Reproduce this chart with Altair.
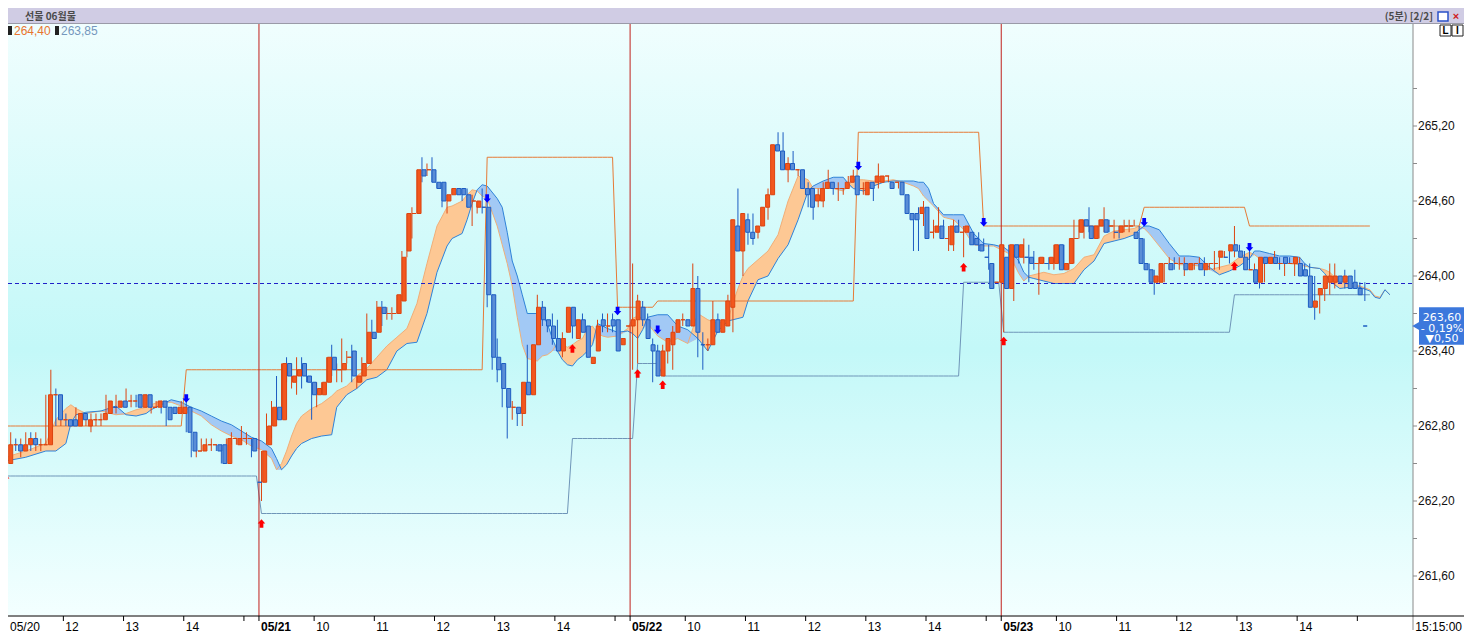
import altair as alt
import pandas as pd

# ---------------- data ----------------
# 5-minute candles (open, high, low, close); last bar of each day = 15:15 closing auction
day_0520 = [
    (262.50,262.65,262.45,262.65),(262.65,262.75,262.60,262.65),(262.65,262.70,262.60,262.60),
    (262.60,262.70,262.55,262.65),(262.65,262.75,262.65,262.70),(262.70,262.75,262.60,262.65),
    (262.65,262.75,262.60,262.65),(262.65,262.70,262.60,262.65),(262.65,263.05,262.65,263.05),
    (263.05,263.25,263.00,263.05),(263.05,263.10,262.80,262.85),(262.85,262.90,262.80,262.85),
    (262.85,262.90,262.80,262.80),(262.85,262.85,262.80,262.80),(262.80,262.95,262.80,262.90),
    (262.90,262.90,262.85,262.85),(262.80,262.90,262.80,262.85),(262.85,262.90,262.75,262.85),
    (262.85,262.90,262.80,262.85),(262.85,262.90,262.80,262.90),(262.90,263.05,262.90,263.00),
    (262.95,263.00,262.90,262.95),(262.95,263.05,262.90,263.00),(263.00,263.00,262.95,262.95),
    (263.00,263.10,262.95,263.00),(263.00,263.05,262.95,263.00),(263.05,263.05,262.95,262.95),
    (262.95,263.05,262.95,263.05),(263.05,263.05,262.95,262.95),(262.95,263.00,262.90,262.95),
    (262.95,263.00,262.95,263.00),(263.00,263.00,262.90,262.95),(262.95,262.95,262.80,262.85),
    (262.95,262.95,262.90,262.90),(262.90,262.95,262.90,262.95),(262.90,263.00,262.90,262.95),
    (262.95,263.00,262.75,262.75),(262.75,262.75,262.55,262.60),(262.60,262.65,262.55,262.60),
    (262.60,262.70,262.60,262.65),(262.65,262.70,262.60,262.65),(262.65,262.70,262.60,262.65),
    (262.65,262.65,262.60,262.60),(262.65,262.65,262.50,262.50),(262.50,262.70,262.50,262.70),
    (262.70,262.75,262.65,262.70),(262.65,262.70,262.65,262.70),(262.70,262.80,262.65,262.70),
    (262.70,262.75,262.65,262.70),(262.70,262.70,262.55,262.60),(262.35,262.35,262.35,262.35),
]
day_0521 = [
    (262.35,262.60,262.20,262.60),(262.65,262.90,262.65,262.80),(262.80,263.00,262.70,262.95),
    (262.95,263.20,262.85,262.85),(262.85,263.30,262.85,263.30),(263.30,263.35,263.15,263.20),
    (263.15,263.30,263.10,263.20),(263.20,263.35,263.05,263.25),(263.30,263.35,263.10,263.20),
    (263.20,263.20,263.15,263.15),(263.15,263.15,262.85,263.05),(263.05,263.15,262.95,263.10),
    (263.05,263.15,263.05,263.15),(263.15,263.35,263.15,263.35),(263.35,263.45,263.20,263.25),
    (263.25,263.30,263.15,263.25),(263.25,263.50,263.15,263.30),(263.35,263.40,263.30,263.35),
    (263.40,263.45,263.15,263.20),(263.15,263.20,263.10,263.20),(263.20,263.35,263.15,263.30),
    (263.30,263.70,263.30,263.55),(263.55,263.65,263.50,263.50),(263.55,263.80,263.55,263.75),
    (263.75,263.80,263.60,263.70),(263.70,263.75,263.65,263.70),(263.70,263.75,263.65,263.70),
    (263.70,263.85,263.70,263.85),(263.80,264.20,263.80,264.15),(264.20,264.50,264.15,264.50),
    (264.50,264.55,264.30,264.50),(264.50,264.85,264.50,264.85),(264.85,264.95,264.75,264.80),
    (264.85,264.90,264.80,264.85),(264.85,264.95,264.75,264.75),(264.75,264.75,264.70,264.70),
    (264.75,264.75,264.55,264.60),(264.60,264.65,264.50,264.65),(264.65,264.70,264.65,264.70),
    (264.70,264.70,264.65,264.65),(264.70,264.70,264.60,264.65),(264.65,264.70,264.55,264.55),
    (264.60,264.65,264.40,264.60),(264.55,264.60,264.50,264.60),(264.55,264.70,264.50,264.55),
    (264.55,264.60,263.75,263.85),(263.85,263.85,263.25,263.35),(263.35,263.50,263.15,263.25),
    (263.30,263.30,262.95,263.10),(263.10,263.10,262.70,262.95),(262.95,263.00,262.85,262.95),
    (262.95,262.95,262.80,262.90),(262.90,263.15,262.80,263.15),(263.15,263.45,263.05,263.05),
    (263.05,263.45,263.05,263.45),(263.45,263.85,263.45,263.75),(263.75,263.80,263.60,263.65),
    (263.65,263.65,263.55,263.60),(263.60,263.70,263.45,263.50),(263.50,263.65,263.40,263.40),
    (263.40,263.55,263.35,263.50),(263.55,263.75,263.55,263.75),(263.75,263.75,263.50,263.60),
    (263.50,263.65,263.50,263.65),(263.65,263.70,263.55,263.55),(263.60,263.60,263.35,263.35),
    (263.30,263.35,263.30,263.35),(263.40,263.65,263.40,263.60),(263.65,263.70,263.55,263.60),
    (263.60,263.70,263.55,263.60),(263.65,263.70,263.55,263.60),(263.65,263.65,263.40,263.40),
    (263.45,263.50,263.45,263.50),(263.60,263.60,263.60,263.60),
]
day_0522 = [
    (263.60,264.10,263.25,263.65),(263.65,263.85,263.30,263.80),(263.75,263.80,263.60,263.65),
    (263.65,263.70,263.50,263.50),(263.45,263.50,263.15,263.40),(263.40,263.45,263.20,263.20),
    (263.20,263.45,263.20,263.40),(263.40,263.50,263.30,263.50),(263.45,263.60,263.25,263.55),
    (263.55,263.65,263.55,263.65),(263.65,263.70,263.60,263.65),(263.65,263.65,263.60,263.60),
    (263.60,264.10,263.60,263.90),(263.90,264.00,263.35,263.55),(263.45,263.55,263.25,263.45),
    (263.45,263.50,263.40,263.45),(263.45,263.80,263.45,263.65),(263.65,263.70,263.55,263.55),
    (263.55,263.65,263.55,263.65),(263.60,263.85,263.60,263.80),(263.75,264.45,263.55,264.45),
    (264.40,264.70,264.20,264.20),(264.20,264.50,264.00,264.50),(264.45,264.50,264.25,264.35),
    (264.35,264.50,264.25,264.30),(264.35,264.40,264.30,264.40),(264.40,264.55,264.40,264.55),
    (264.55,264.70,264.45,264.65),(264.65,265.05,264.65,265.05),(265.05,265.15,265.00,265.00),
    (265.00,265.15,264.85,264.85),(264.85,264.95,264.75,264.90),(264.90,265.00,264.85,264.85),
    (264.85,264.85,264.80,264.85),(264.85,264.85,264.70,264.70),(264.70,264.75,264.55,264.65),
    (264.70,264.70,264.45,264.55),(264.60,264.70,264.55,264.65),(264.60,264.75,264.55,264.70),
    (264.70,264.85,264.70,264.75),(264.75,264.75,264.65,264.70),(264.70,264.75,264.60,264.70),
    (264.70,264.70,264.65,264.70),(264.70,264.80,264.70,264.75),(264.75,264.85,264.75,264.80),
    (264.80,264.80,264.65,264.65),(264.70,264.75,264.65,264.70),(264.65,264.75,264.65,264.75),
    (264.75,264.75,264.60,264.70),(264.75,264.90,264.70,264.80),(264.75,264.80,264.75,264.80),
    (264.80,264.80,264.75,264.80),(264.75,264.75,264.70,264.70),(264.75,264.75,264.70,264.75),
    (264.75,264.75,264.65,264.65),(264.65,264.65,264.50,264.50),(264.50,264.50,264.20,264.45),
    (264.50,264.55,264.20,264.45),(264.50,264.60,264.40,264.55),(264.55,264.55,264.30,264.30),
    (264.35,264.45,264.30,264.35),(264.35,264.55,264.35,264.40),(264.40,264.45,264.30,264.30),
    (264.30,264.40,264.20,264.30),(264.25,264.45,264.20,264.40),(264.40,264.45,264.35,264.35),
    (264.35,264.40,264.15,264.35),(264.35,264.40,264.35,264.40),(264.35,264.35,264.25,264.25),
    (264.30,264.35,264.20,264.25),(264.25,264.30,264.20,264.20),(264.15,264.25,264.05,264.15),
    (264.10,264.10,263.90,263.90),(263.95,263.95,263.95,263.95),
]
day_0523 = [
    (263.95,264.25,263.55,264.25),(264.15,264.25,263.90,263.90),(263.90,264.25,263.80,264.25),
    (264.25,264.25,264.10,264.15),(264.15,264.30,264.10,264.25),(264.15,264.25,263.95,264.15),
    (264.15,264.20,264.05,264.10),(264.10,264.15,263.85,264.10),(264.10,264.15,264.10,264.15),
    (264.10,264.15,264.05,264.10),(264.10,264.25,264.05,264.15),(264.10,264.25,264.10,264.25),
    (264.25,264.25,264.05,264.05),(264.05,264.10,264.05,264.10),(264.10,264.45,264.10,264.30),
    (264.30,264.45,264.30,264.30),(264.35,264.45,264.30,264.45),(264.45,264.55,264.35,264.40),
    (264.40,264.40,264.30,264.30),(264.30,264.45,264.30,264.40),(264.40,264.55,264.35,264.45),
    (264.45,264.45,264.35,264.35),(264.40,264.45,264.30,264.40),(264.35,264.40,264.30,264.35),
    (264.35,264.45,264.35,264.40),(264.40,264.45,264.35,264.40),(264.40,264.45,264.40,264.40),
    (264.35,264.40,264.30,264.30),(264.30,264.30,264.10,264.10),(264.10,264.10,264.05,264.05),
    (264.05,264.05,263.85,263.95),(263.95,264.00,263.95,264.00),(263.95,264.10,263.95,264.10),
    (264.10,264.15,264.05,264.10),(264.10,264.15,264.05,264.05),(264.10,264.15,264.05,264.10),
    (264.10,264.15,264.00,264.10),(264.10,264.10,264.05,264.05),(264.05,264.10,264.05,264.10),
    (264.10,264.15,264.05,264.10),(264.10,264.15,264.00,264.05),(264.05,264.10,264.05,264.10),
    (264.10,264.20,264.05,264.10),(264.10,264.20,264.05,264.10),(264.15,264.20,264.15,264.20),
    (264.15,264.20,264.10,264.15),(264.20,264.40,264.15,264.25),(264.25,264.25,264.20,264.20),
    (264.20,264.20,264.15,264.15),(264.15,264.25,264.05,264.05),(264.05,264.10,264.00,264.05),
    (264.05,264.05,263.90,263.95),(263.95,264.15,263.95,264.15),(264.15,264.15,264.10,264.10),
    (264.10,264.20,264.10,264.15),(264.15,264.15,264.05,264.10),(264.10,264.15,264.00,264.10),
    (264.15,264.15,264.10,264.10),(264.10,264.15,264.00,264.10),(264.10,264.15,264.10,264.15),
    (264.10,264.10,264.00,264.00),(264.05,264.10,263.95,264.00),(264.00,264.00,263.65,263.75),
    (263.75,263.85,263.70,263.80),(263.85,263.90,263.80,263.90),(263.90,264.10,263.85,264.00),
    (263.95,264.10,263.90,264.00),(263.95,264.00,263.95,264.00),(264.00,264.05,263.90,263.95),
    (263.95,264.00,263.95,264.00),(264.00,264.05,263.90,263.90),(263.95,263.95,263.90,263.90),
    (263.90,263.95,263.80,263.85),(263.60,263.60,263.60,263.60),
]

# Ichimoku-style cloud: (bar, span A, span B)
cloud_points = [
    (0,262.55,262.52),(4,262.60,262.55),(8,262.66,262.60),(10,262.85,262.60),(12,262.94,262.66),
    (13,262.97,262.82),(14,262.94,262.89),(16,262.90,262.91),(19,262.92,262.92),(22,262.89,262.96),
    (24,262.90,262.89),(26,262.93,262.88),(28,262.95,262.90),(29,262.97,262.93),(31,263.00,262.97),
    (33,262.99,263.01),(35,262.96,262.99),(37,262.92,262.95),(39,262.88,262.92),(41,262.81,262.88),
    (43,262.76,262.84),(45,262.72,262.81),(47,262.69,262.76),(49,262.64,262.71),(51,262.61,262.68),
    (53,262.54,262.62),(54,262.45,262.54),(55,262.50,262.45),(56,262.60,262.49),(57,262.72,262.56),
    (58,262.82,262.62),(59,262.88,262.66),(61,262.94,262.70),(63,262.98,262.72),(65,263.04,262.73),
    (66,263.08,262.95),(68,263.12,263.05),(70,263.20,263.10),(72,263.26,263.17),(74,263.35,263.19),
    (76,263.44,263.25),(78,263.51,263.40),(80,263.58,263.46),(82,263.78,263.47),(84,264.10,263.70),
    (86,264.40,264.03),(88,264.55,264.24),(89,264.56,264.30),(91,264.60,264.34),(92,264.65,264.45),
    (93,264.69,264.58),(94,264.68,264.69),(95,264.64,264.73),(96,264.62,264.72),(98,264.40,264.62),
    (99,264.25,264.55),(100,264.10,264.35),(101,263.92,264.12),(102,263.67,264.00),(103,263.45,263.85),
    (104,263.34,263.70),(106,263.32,263.70),(107,263.36,263.69),(108,263.37,263.62),(109,263.40,263.50),
    (110,263.47,263.40),(111,263.45,263.33),(112,263.43,263.29),(113,263.45,263.28),(114,263.48,263.33),
    (115,263.50,263.36),(116,263.58,263.40),(117,263.60,263.45),(118,263.54,263.62),(119,263.52,263.60),
    (120,263.51,263.58),(122,263.52,263.55),(124,263.58,263.56),(125,263.66,263.54),(126,263.68,263.50),
    (127,263.66,263.57),(128,263.62,263.67),(130,263.52,263.69),(132,263.47,263.69),(134,263.50,263.60),
    (136,263.46,263.57),(138,263.70,263.50),(140,263.65,263.40),(142,263.62,263.56),(144,263.65,263.64),
    (145,263.78,263.65),(146,263.90,263.66),(147,264.00,263.67),(148,264.06,263.80),(150,264.13,263.97),
    (152,264.20,264.00),(154,264.33,264.14),(156,264.60,264.25),(158,264.80,264.45),(160,264.77,264.68),
    (161,264.70,264.72),(163,264.70,264.76),(165,264.70,264.79),(167,264.68,264.79),(168,264.72,264.74),
    (169,264.77,264.70),(171,264.77,264.68),(173,264.76,264.72),(175,264.76,264.75),(177,264.77,264.76),
    (179,264.75,264.76),(181,264.72,264.76),(182,264.70,264.75),(183,264.64,264.75),(184,264.60,264.70),
    (185,264.56,264.58),(187,264.47,264.49),(189,264.45,264.49),(191,264.37,264.49),(193,264.25,264.34),
    (195,264.24,264.26),(197,264.24,264.25),(199,264.20,264.23),(200,264.18,264.20),(201,264.10,264.17),
    (202,264.02,264.12),(203,263.96,264.03),(204,264.00,263.99),(205,264.01,263.98),(207,264.03,263.96),
    (209,264.01,263.94),(211,264.02,263.94),(213,264.06,263.94),(215,264.15,264.05),(217,264.17,264.12),
    (219,264.32,264.26),(221,264.36,264.28),(223,264.37,264.30),(225,264.38,264.33),(226,264.40,264.37),
    (227,264.38,264.40),(228,264.34,264.40),(230,264.24,264.37),(232,264.14,264.26),(234,264.09,264.16),
    (236,264.09,264.16),(238,264.08,264.15),(240,264.05,264.07),(242,264.07,264.01),(244,264.09,264.04),
    (246,264.15,264.08),(248,264.19,264.14),(249,264.17,264.20),(250,264.14,264.20),(252,264.10,264.18),
    (254,264.10,264.16),(256,264.10,264.16),(258,264.09,264.15),(259,264.08,264.10),(260,264.07,264.07),
    (262,264.06,264.06),(263,264.05,264.02),(264,264.03,263.96),(266,263.95,263.90),(268,263.93,263.91),
    (270,263.92,263.91),(272,263.89,263.88),(273,263.84,263.83),(274,263.83,263.82),(275,263.89,263.89),
    (276,263.85,263.85),
]

# step lines (bar where a level starts, level)
orange_start = [0, 36, 96, 122, 130, 170, 195, 227, 248]
orange_level = [262.80, 263.25, 264.95, 263.75, 263.80, 265.15, 264.40, 264.55, 264.40]
steel_start = [0, 51, 113, 126, 131, 191, 199, 245]
steel_level = [262.40, 262.10, 262.70, 263.30, 263.20, 263.95, 263.55, 263.85]

# signals
buy_bar = [0, 51, 113, 126, 131, 191, 199, 245]
buy_price = [262.38, 262.02, 263.42, 263.22, 263.13, 264.07, 263.48, 264.08]
sell_bar = [36, 96, 122, 130, 170, 195, 227, 248]
sell_price = [263.02, 264.62, 263.72, 263.57, 264.88, 264.43, 264.43, 264.23]

ref_price = 263.94
day_break = [50.5, 124.5, 198.5]
day_labels = ["05/21", "05/22", "05/23"]
hour_ticks = [0.46, 11.5, 23.5, 35.5, 47.5, 61.5, 73.5, 85.5, 97.5, 109.5, 121.5,
              135.5, 147.5, 159.5, 171.5, 183.5, 195.5, 209.5, 221.5, 233.5, 245.5, 257.5, 269.5]
hour_labels = ["05/20", "12", "13", "14", "", "10", "11", "12", "13", "14", "",
               "10", "11", "12", "13", "14", "", "10", "11", "12", "13", "14", ""]
y_tick_values = [261.6, 261.9, 262.2, 262.5, 262.8, 263.1, 263.4, 263.7, 264.0, 264.3,
                 264.6, 264.9, 265.2, 265.5]
y_label_values = [261.6, 262.2, 262.8, 263.4, 264.0, 264.6, 265.2]
y_label_text = ["261,60", "262,20", "262,80", "263,40", "264,00", "264,60", "265,20"]
last_price, last_pct, last_chg = "263,60", "- 0,19%", "\u25bc0,50"
last_level = 263.60

# ---------------- layout ----------------
W, H = 1405, 591
PAD_R, PAD_T, PAD_B = 51, 16, 18
Y_DOMAIN = [261.288, 266.016]
X_DOMAIN = [0.46, 280.6]

xs = alt.Scale(domain=X_DOMAIN, nice=False, zero=False)
ys = alt.Scale(domain=Y_DOMAIN, nice=False, zero=False)
px = alt.Scale(domain=[0, W], range=[0, W])


def X(f="g"):
    return alt.X(f"{f}:Q", scale=xs, axis=None)


def Y(f):
    return alt.Y(f"{f}:Q", scale=ys, axis=None)


rows = []
prev = None
for day in (day_0520, day_0521, day_0522, day_0523):
    for o, h, l, c in day:
        if c > o:
            d = "up"
        elif c < o:
            d = "down"
        else:
            d = "up" if (prev is None or c >= prev) else "down"
        rows.append({"g": len(rows), "o": o, "h": h, "l": l, "c": c, "d": d})
        prev = c
candles = pd.DataFrame(rows)
last_g = len(rows) - 1


def steps(starts, levels, end):
    out = []
    for k, (s, v) in enumerate(zip(starts, levels)):
        e = starts[k + 1] if k + 1 < len(starts) else end + 1
        for gg in range(s, e):
            out.append({"g": gg, "v": v})
    return pd.DataFrame(out)


orange_df = steps(orange_start, orange_level, last_g)
steel_df = steps(steel_start, steel_level, last_g)

cloud = pd.DataFrame(cloud_points, columns=["g", "a", "b"])
cloud["lo"] = cloud[["a", "b"]].min(axis=1)

one = pd.DataFrame({"k": [0]})

bg = alt.Chart(one).mark_rect(
    fill=alt.Gradient(gradient="linear", x1=0, x2=0, y1=0, y2=1,
                      stops=[alt.GradientStop(color="#f0fefe", offset=0),
                             alt.GradientStop(color="#c3f8f8", offset=0.55),
                             alt.GradientStop(color="#f3ffff", offset=1)])
).encode(x=alt.value(0), x2=alt.value(W), y=alt.value(0), y2=alt.value(H))

area_a = alt.Chart(cloud).mark_area(color="#fdc894", opacity=1).encode(x=X(), y=Y("a"), y2="lo:Q")
area_b = alt.Chart(cloud).mark_area(color="#a2c9f5", opacity=1).encode(x=X(), y=Y("b"), y2="lo:Q")
line_a = alt.Chart(cloud).mark_line(color="#f0ae78", strokeWidth=1).encode(x=X(), y=Y("a"))
line_b = alt.Chart(cloud).mark_line(color="#2f83d8", strokeWidth=1).encode(x=X(), y=Y("b"))

ref_line = alt.Chart(pd.DataFrame({"v": [ref_price]})).mark_rule(
    color="#2020c8", strokeDash=[4, 3], strokeWidth=1
).encode(y=Y("v"), x=alt.value(0), x2=alt.value(W))

orange_line = alt.Chart(orange_df).mark_line(color="#e67a36", strokeWidth=1).encode(x=X(), y=Y("v"))
steel_line = alt.Chart(steel_df).mark_line(color="#6f95b8", strokeWidth=1).encode(x=X(), y=Y("v"))

day_lines = alt.Chart(pd.DataFrame({"g": day_break})).mark_rule(
    color="#c0201c", strokeWidth=1
).encode(x=X(), y=alt.value(0), y2=alt.value(H + 1))

stroke_scale = alt.Scale(domain=["up", "down"], range=["#dc4410", "#1d5cc2"])
fill_scale = alt.Scale(domain=["up", "down"], range=["#f2571e", "#5a8dd6"])

wicks = alt.Chart(candles).mark_rule(strokeWidth=1).encode(
    x=X(), y=Y("l"), y2="h:Q", stroke=alt.Stroke("d:N", scale=stroke_scale, legend=None)
)
bodies = alt.Chart(candles).mark_bar(size=4, strokeWidth=1).encode(
    x=X(), y=Y("o"), y2="c:Q",
    fill=alt.Fill("d:N", scale=fill_scale, legend=None),
    stroke=alt.Stroke("d:N", scale=stroke_scale, legend=None),
)

UP = "M0,-1L0.9,0L0.45,0L0.45,1L-0.45,1L-0.45,0L-0.9,0Z"
DOWN = "M0,1L0.9,0L0.45,0L0.45,-1L-0.45,-1L-0.45,0L-0.9,0Z"
buys = alt.Chart(pd.DataFrame({"g": buy_bar, "p": buy_price})).mark_point(
    shape=UP, size=70, filled=True, color="#ff0000", opacity=1, strokeWidth=0
).encode(x=X(), y=Y("p"))
sells = alt.Chart(pd.DataFrame({"g": sell_bar, "p": sell_price})).mark_point(
    shape=DOWN, size=70, filled=True, color="#0000ff", opacity=1, strokeWidth=0
).encode(x=X(), y=Y("p"))

# ---- right price axis (drawn as marks) ----
y_domain_line = alt.Chart(one).mark_rule(color="#8a8a8a").encode(
    x=alt.value(W), y=alt.value(-1), y2=alt.value(H + 15))
y_ticks = alt.Chart(pd.DataFrame({"v": y_tick_values})).mark_rule(color="#8a8a8a").encode(
    y=Y("v"), x=alt.value(W), x2=alt.value(W + 4))
y_labels = alt.Chart(pd.DataFrame({"v": y_label_values, "t": y_label_text})).mark_text(
    align="left", baseline="middle", font="Liberation Sans", fontSize=12, color="#111111"
).encode(y=Y("v"), x=alt.value(W + 5), text="t:N")

# ---- time axis (bottom) ----
x_axis_line = alt.Chart(one).mark_rule(color="#000000", strokeWidth=1).encode(
    x=alt.value(0), x2=alt.value(W + PAD_R), y=alt.value(H + 1))
hour_df = pd.DataFrame({"g": hour_ticks, "t": hour_labels})
day_df = pd.DataFrame({"g": day_break, "t": day_labels})
ticks_df = pd.concat([hour_df.iloc[1:], day_df])
x_ticks = alt.Chart(ticks_df).mark_rule(color="#000000").encode(
    x=X(), y=alt.value(H + 1), y2=alt.value(H + 6))
hour_text = alt.Chart(hour_df).mark_text(
    align="left", baseline="middle", dx=2, font="Liberation Sans", fontSize=12, color="#000000"
).encode(x=X(), y=alt.value(H + 12), text="t:N")
day_text = alt.Chart(day_df).mark_text(
    align="left", baseline="middle", dx=2, font="Liberation Sans", fontSize=12,
    fontWeight="bold", color="#000000"
).encode(x=X(), y=alt.value(H + 12), text="t:N")
end_text = alt.Chart(one).mark_text(
    align="right", baseline="middle", font="Liberation Sans", fontSize=12, color="#000000",
    text="15:15:00"
).encode(x=alt.value(W + PAD_R - 2), y=alt.value(H + 12))

# ---- title bar ----
title_bg = alt.Chart(one).mark_rect(color="#d0cce4").encode(
    x=alt.value(-10), x2=alt.value(W + PAD_R), y=alt.value(-PAD_T), y2=alt.value(-1))
title_ln = alt.Chart(one).mark_rule(color="#9a9aa8").encode(
    x=alt.value(-10), x2=alt.value(W + PAD_R), y=alt.value(-0.5))
title_txt = alt.Chart(one).mark_text(
    align="left", baseline="middle", font="Noto Sans CJK KR", fontSize=10, fontWeight="bold",
    color="#4a4a4a", text="선물 06월물"
).encode(x=alt.value(17), y=alt.value(-7.5))
title_r = alt.Chart(one).mark_text(
    align="right", baseline="middle", font="Noto Sans CJK KR", fontSize=10, fontWeight="bold",
    color="#4a4a4a", text="(5분) [2/2]"
).encode(x=alt.value(W + 20), y=alt.value(-7.5))
icon1 = alt.Chart(one).mark_rect(fill="#ffffff", stroke="#2a50c8", strokeWidth=1.5).encode(
    x=alt.value(W + 25), x2=alt.value(W + 35), y=alt.value(-12), y2=alt.value(-3))
icon2 = alt.Chart(one).mark_text(
    align="center", baseline="middle", fontSize=11, fontWeight="bold", color="#d02020", text="×"
).encode(x=alt.value(W + 43), y=alt.value(-7.5))

# ---- legend (top-left) ----
leg_icons = alt.Chart(pd.DataFrame({"x": [0, 47]})).mark_rect(color="#222222").encode(
    x=alt.X("x:Q", scale=px, axis=None), x2=alt.X2("x2:Q"), y=alt.value(2), y2=alt.value(11)
).transform_calculate(x2="datum.x + 4")
leg1 = alt.Chart(one).mark_text(
    align="left", baseline="middle", font="Liberation Sans", fontSize=12, color="#e8752f",
    text=f"{orange_level[-1]:.2f}".replace(".", ",")
).encode(x=alt.value(6), y=alt.value(7))
leg2 = alt.Chart(one).mark_text(
    align="left", baseline="middle", font="Liberation Sans", fontSize=12, color="#7497bd",
    text=f"{steel_level[-1]:.2f}".replace(".", ",")
).encode(x=alt.value(53), y=alt.value(7))

# LI icons
li_box = alt.Chart(pd.DataFrame({"a": [W + 27, W + 39]})).mark_rect(
    fill="#ffffff", stroke="#222222", strokeWidth=1
).encode(
    x=alt.X("a:Q", scale=px, axis=None), x2=alt.X2("b:Q"), y=alt.value(1), y2=alt.value(12)
).transform_calculate(b="datum.a + 11")
li_txt = alt.Chart(pd.DataFrame({"a": [W + 32.5, W + 44.5], "t": ["L", "I"]})).mark_text(
    align="center", baseline="middle", fontSize=10, fontWeight="bold", color="#000000"
).encode(x=alt.X("a:Q", scale=px, axis=None), y=alt.value(7), text="t:N")

# ---- current-price tag ----
tag_rect = alt.Chart(pd.DataFrame({"top": [last_level + 0.15], "bot": [last_level - 0.15]})).mark_rect(
    color="#3c78dc").encode(x=alt.value(W + 6), x2=alt.value(W + PAD_R), y=Y("top"), y2="bot:Q")
tag_tip = alt.Chart(pd.DataFrame({"p": [last_level]})).mark_point(
    shape="triangle-left", size=120, filled=True, color="#3c78dc", opacity=1
).encode(x=alt.value(W + 4), y=Y("p"))
tag_txt = alt.Chart(pd.DataFrame({
    "p": [last_level + 0.065, last_level - 0.02, last_level - 0.105],
    "t": [last_price, last_pct, last_chg]})).mark_text(
    align="center", baseline="middle", font="DejaVu Sans", fontSize=11, color="#ffffff"
).encode(x=alt.value(W + 29), y=Y("p"), text="t:N")

chart = alt.layer(
    bg, area_a, area_b, line_a, line_b, ref_line, orange_line, steel_line, day_lines,
    wicks, bodies, buys, sells,
    y_domain_line, y_ticks, y_labels,
    x_axis_line, x_ticks, hour_text, day_text, end_text,
    title_bg, title_ln, title_txt, title_r, icon1, icon2,
    leg_icons, leg1, leg2, li_box, li_txt,
    tag_rect, tag_tip, tag_txt,
).properties(
    width=W, height=H,
    padding={"left": 0, "top": PAD_T, "right": PAD_R, "bottom": PAD_B},
    autosize=alt.AutoSizeParams(type="none"),
    background="#ffffff",
).resolve_scale(x="independent").configure_view(stroke=None)

chart.save("out.html", embed_options={"renderer": "svg", "actions": False})
